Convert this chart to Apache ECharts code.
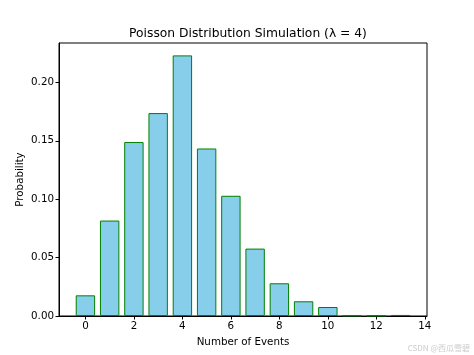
<!DOCTYPE html>
<html><head><meta charset="utf-8">
<script src="https://cdn.jsdelivr.net/npm/echarts@6/dist/echarts.min.js"></script>
<style>html,body{margin:0;padding:0;background:#fff}#c{width:474px;height:355px}</style>
</head><body><div id="c"></div>
<script>
var events = [0,1,2,3,4,5,6,7,8,9,10,11,12,13];
var probability = [0.0177,0.0817,0.1489,0.1737,0.2231,0.1434,0.1029,0.0577,0.0280,0.0126,0.0077,0.0004,0.0003,0.0009];
var xTicks = [0,2,4,6,8,10,12,14];
var yTicks = [0,0.05,0.10,0.15,0.20];

var font = 'DejaVu Sans';
var chart = echarts.init(document.getElementById('c'));
chart.setOption({
  animation: false,
  title: {text: 'Poisson Distribution Simulation (\u03bb = 4)', left: 243, top: 23, textAlign: 'center',
    textStyle: {fontFamily: font, fontSize: 12.3, fontWeight: 'normal', color: '#000'}},
  grid: {left: 59, right: 47, top: 43, bottom: 39, show: true, borderColor: '#000', borderWidth: 1, backgroundColor: 'transparent'},
  xAxis: {type: 'value', min: -1.09, max: 14.09,
    name: 'Number of Events', nameLocation: 'middle', nameGap: 21,
    nameTextStyle: {fontFamily: font, fontSize: 10.3, color: '#000'},
    axisLine: {show: true, onZero: false, lineStyle: {color: '#000', width: 1}},
    axisTick: {show: true, length: 3.5, lineStyle: {color: '#000'}, customValues: xTicks},
    axisLabel: {fontFamily: font, fontSize: 10.3, color: '#000', margin: 5, customValues: xTicks},
    splitLine: {show: false}},
  yAxis: {type: 'value', min: 0, max: 0.2337,
    name: 'Probability', nameLocation: 'middle', nameGap: 34, nameMoveOverlap: false,
    nameTextStyle: {fontFamily: font, fontSize: 10.3, color: '#000'},
    axisLine: {show: true, onZero: false, lineStyle: {color: '#000', width: 1}},
    axisTick: {show: true, length: 3.5, lineStyle: {color: '#000'}, customValues: yTicks},
    axisLabel: {fontFamily: font, fontSize: 10.3, color: '#000', margin: 5, customValues: yTicks,
      formatter: function(v){return v.toFixed(2);}},
    splitLine: {show: false}},
  series: [{type: 'bar', barWidth: 19.4,
    data: events.map(function(e,i){return [e, probability[i]];}),
    itemStyle: {color: '#87CEEB', borderColor: '#008000', borderWidth: 1}}],
  graphic: [{type: 'text', right: 4, bottom: 3,
    style: {text: 'CSDN @西瓜雪碧', fontSize: 8, fill: '#ccc', fontFamily: 'Noto Sans CJK SC'}}]
});
</script></body></html>
